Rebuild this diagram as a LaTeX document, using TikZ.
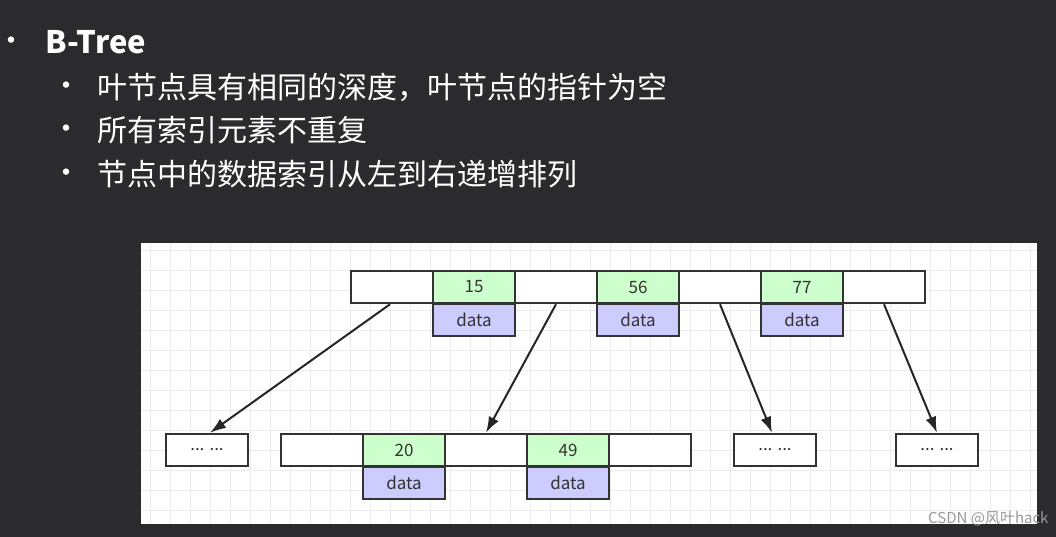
\documentclass[tikz,border=0pt]{standalone}
\usepackage{fontspec}
\setmainfont{Noto Sans CJK SC}
\usetikzlibrary{arrows.meta}
\definecolor{keygreen}{HTML}{CCFFCC}
\definecolor{datablue}{HTML}{CCCCFF}
\definecolor{slate}{HTML}{2B2B2D}

\begin{document}
\begin{tikzpicture}[x=1pt,y=-1pt,
    cell/.style={draw=black!80,line width=2pt,fill=white,minimum width=82pt,minimum height=32.5pt,inner sep=0pt,font=\fontsize{17}{19}\selectfont,text=black!80},
    keycell/.style={cell,fill=keygreen},
    datacell/.style={cell,fill=datablue},
    ptr/.style={-{Latex[length=16pt,width=11pt]},line width=2pt,draw=black!85},
    bullettext/.style={anchor=west,text=white,font=\fontsize{30}{34}\selectfont},
    dotmark/.style={text=white,font=\fontsize{30}{34}\selectfont}]

\fill[slate] (0,0) rectangle (1056,537);
\useasboundingbox (0,0) rectangle (1056,537);

% title and bullets
\node[dotmark] (dot0) at (12,44) {•};
\node[bullettext,font=\fontsize{31}{34}\selectfont\bfseries] (title) at (42,42) {B-Tree};
\node[dotmark] (dot1) at (66,89) {•};
\node[bullettext] (line1) at (94,87) {叶节点具有相同的深度，叶节点的指针为空};
\node[dotmark] (dot2) at (66,132) {•};
\node[bullettext] (line2) at (94,130) {所有索引元素不重复};
\node[dotmark] (dot3) at (66,176) {•};
\node[bullettext] (line3) at (94,174) {节点中的数据索引从左到右递增排列};

% canvas with grid
\fill[white] (141,243) rectangle (1037,524);
\begin{scope}
\clip (141,243) rectangle (1037,524);
\foreach \gx in {150,170,...,1030} \draw[black!8,line width=0.8pt] (\gx,243) -- (\gx,524);
\foreach \gy in {250,270,...,520} \draw[black!8,line width=0.8pt] (141,\gy) -- (1037,\gy);
\end{scope}

% root node
\node[cell] (r0) at (392,287) {};
\node[keycell] (r1) at (474,287) {15};
\node[cell] (r2) at (556,287) {};
\node[keycell] (r3) at (638,287) {56};
\node[cell] (r4) at (720,287) {};
\node[keycell] (r5) at (802,287) {77};
\node[cell] (r6) at (884,287) {};
\node[datacell] (d1) at (474,320) {data};
\node[datacell] (d3) at (638,320) {data};
\node[datacell] (d5) at (802,320) {data};

% child nodes
\node[cell] (c1) at (207,450) {... ...};
\node[cell] (m0) at (322,450) {};
\node[keycell] (m1) at (404,450) {20};
\node[cell] (m2) at (486,450) {};
\node[keycell] (m3) at (568,450) {49};
\node[cell] (m4) at (650,450) {};
\node[datacell] (e1) at (404,483) {data};
\node[datacell] (e3) at (568,483) {data};
\node[cell] (c3) at (775,450) {... ...};
\node[cell] (c4) at (937,450) {... ...};

% pointers
\draw[ptr] ([xshift=-2pt]r0.south) -- ([xshift=3pt]c1.north);
\draw[ptr] (r2.south) -- (m2.north);
\draw[ptr] (r4.south) -- ([xshift=-3pt]c3.north);
\draw[ptr] (r6.south) -- (c4.north);

% watermark
\node[anchor=east,text=black!40,font=\fontsize{15}{17}\selectfont] (mark) at (1052,519) {CSDN @风叶hack};

\end{tikzpicture}
\end{document}
